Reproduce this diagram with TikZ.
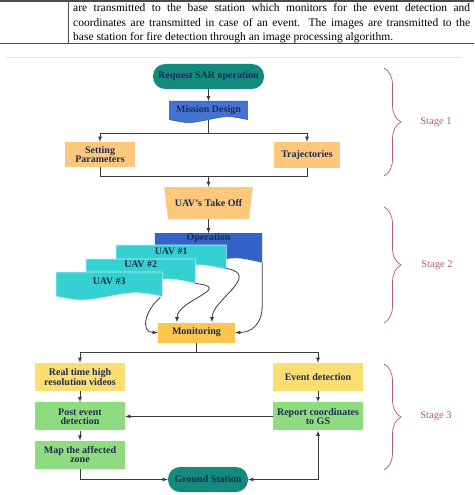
\documentclass[tikz,border=0pt]{standalone}
\usepackage{fontspec}
\setmainfont{Liberation Serif}
\usepackage{xcolor}
\usepackage{tikz}
\usetikzlibrary{positioning}
\usetikzlibrary{arrows}
\usetikzlibrary{calc}
\usetikzlibrary{backgrounds}
\usetikzlibrary{shapes.geometric}
\usetikzlibrary{decorations.pathreplacing}
\definecolor{sarteal}{HTML}{138A7C}
\definecolor{misblue}{HTML}{4473D4}
\definecolor{misedge}{HTML}{2D55A8}
\definecolor{opblue}{HTML}{3362C8}
\definecolor{softorange}{HTML}{FDC87C}
\definecolor{uavcyan}{HTML}{35D0D2}
\definecolor{amber}{HTML}{FBC54E}
\definecolor{softyellow}{HTML}{FCDD72}
\definecolor{softgreen}{HTML}{8EDC7F}
\definecolor{navytext}{HTML}{1F2B52}
\definecolor{linegray}{HTML}{3A3A3A}
\definecolor{stagered}{HTML}{B25A78}
% document shape with a wavy bottom, drawn behind node #1
\newcommand\docfill[4]{%
  \path[#2] (#1.north west) -- (#1.north east) -- ($(#1.south east)+(0,#4)$)
    .. controls ($(#1.south east)!0.5!(#1.south)+(0,#4-#3)$) .. ($(#1.south)+(0,#4)$)
    .. controls ($(#1.south west)!0.5!(#1.south)+(0,#4+#3)$) .. ($(#1.south west)+(0,#4)$) -- cycle;}
\tikzset {
  % flow chart boxes
  box/.style = {rectangle, minimum height=28pt, inner sep=1pt, align=center, text=navytext},
  term/.style = {rectangle, rounded corners=12pt, fill=sarteal, minimum height=25pt, inner sep=1pt, text=navytext},
  doc/.style = {rectangle, inner sep=0pt, text=navytext},
  takeoff/.style = {trapezium, shape border rotate=180, trapezium left angle=76, trapezium right angle=76,
    trapezium stretches=true, minimum width=89pt, minimum height=32pt, fill=softorange, text=navytext},
  % connectors
  line/.style = {draw=linegray, line width=0.8pt},
  arr/.style = {line, -latex},
  % stages on the right
  stagebrace/.style = {draw=stagered, line width=0.7pt, decorate, decoration={brace, amplitude=17pt}},
  stage/.style = {text=stagered, font=\fontsize{10.5}{12}\selectfont},
  % the table row at the top
  tabletext/.style = {anchor=base west, inner sep=0pt, font=\fontsize{11.5}{13}\selectfont},
  tablerule/.style = {draw=black!70, line width=1.5pt},
}
\begin{document}
\begin{tikzpicture}[x=1pt, y=-1pt, font=\fontsize{10}{9}\selectfont\bfseries]
  \useasboundingbox (0,0) rectangle (474,495);

  % table row
  \draw[tablerule] (0,1) -- (474,1);
  \draw[tablerule] (0,43.5) -- (474,43.5);
  \draw[tablerule, line width=1pt] (68.5,1) -- (68.5,43.5);
  \node[tabletext] (t1) at (73,12) {\makebox[397pt][s]{are transmitted to the base station which monitors for the event detection and}};
  \node[tabletext] (t2) at (73,26.5) {\makebox[397pt][s]{coordinates are transmitted in case of an event. The images are transmitted to the}};
  \node[tabletext] (t3) at (73,41) {base station for fire detection through an image processing algorithm.};
  \draw[black!10, line width=0.8pt] (6,57) -- (462,57);

  % stage 1
  \node[term, minimum width=111pt] (sar) at (208.5,76.5) {Request SAR operation};
  \node[doc, minimum width=78pt, minimum height=18pt] (mis) [below=12pt of sar] {Mission Design};
  \node[box, fill=softorange, minimum width=70pt, minimum height=25pt] (set) at (100,154.5) {Setting\\Parameters};
  \node[box, fill=softorange, minimum width=66pt, minimum height=26pt] (traj) at (307,155) {Trajectories};

  % stage 2
  \node[takeoff] (take) at (208.5,203) {UAV's Take Off};
  \node[doc, minimum width=107pt, minimum height=9pt] (op) [below=14pt of take] {Operation};
  \node[doc, anchor=north west, minimum width=110pt, minimum height=12pt] (u1) at (116,245) {UAV \#1};
  \node[doc, anchor=north west, minimum width=109pt, minimum height=10pt] (u2) at (86,259) {UAV \#2};
  \node[doc, anchor=north west, minimum width=106pt, minimum height=18pt] (u3) at (56,272) {UAV \#3};
  \node[box, fill=amber, minimum width=77pt, minimum height=20pt] (mon) at (196.5,332.5) {Monitoring};

  % stage 3
  \node[box, fill=softyellow, minimum width=90pt] (rt) at (80,377) {Real time high\\resolution videos};
  \node[box, fill=softyellow, minimum width=90pt] (ev) at (318,377) {Event detection};
  \node[box, fill=softgreen, minimum width=90pt] (post) [below=11pt of rt] {Post event\\detection};
  \node[box, fill=softgreen, minimum width=90pt] (map) [below=10pt of post] {Map the affected\\zone};
  \node[box, fill=softgreen, minimum width=90pt] (rep) [below=11pt of ev] {Report coordinates\\to GS};
  \node[term, minimum width=80pt] (gs) at (208,479.5) {Ground Station};

  \begin{scope}[on background layer]
    \docfill{mis}{fill=misblue, draw=misedge, line width=0.5pt}{4}{0}
    \docfill{op}{fill=opblue}{6}{20}
    \docfill{u1}{fill=uavcyan, draw=white!70!uavcyan, line width=0.6pt}{6}{12}
    \docfill{u2}{fill=uavcyan, draw=white!70!uavcyan, line width=0.6pt}{6}{14}
    \docfill{u3}{fill=uavcyan, draw=white!70!uavcyan, line width=0.6pt}{5}{6}
  \end{scope}

  % connectors
  \draw[arr] (sar) -- (mis);
  \draw[line] (mis.south) -- ++(0,14) coordinate (fork1);
  \draw[arr] (fork1) -| (set);
  \draw[arr] (fork1) -| (traj);
  \path (take.north) ++(0,-10) coordinate (join1);
  \draw[line] (set) |- (join1) -| (traj);
  \draw[arr] (join1) -- (take);
  \draw[arr] (take) -- (op);

  \draw[arr] ($(u3.south east)+(-2,7)$) .. controls (145,310) and (140,332.5) .. (mon.west);
  \draw[arr] ($(u2.south east)+(0,14)$) .. controls (235,288) and (177,300) .. ($(mon.north)+(-19.5,0)$);
  \draw[arr] ($(u1.south east)+(0,11)$) .. controls (262,275) and (212,300) .. ($(mon.north)+(15.5,0)$);
  \draw[arr] ($(op.south east)+(0,20)$) -- ++(0,43) .. controls +(0,20) and (250,332.5) .. (mon.east);

  \draw[line] (mon.south) -- ++(0,10) coordinate (fork2);
  \draw[arr] (fork2) -| (rt);
  \draw[arr] (fork2) -| (ev);
  \draw[arr] (rt) -- (post);
  \draw[arr] (post) -- (map);
  \draw[arr] (ev) -- (rep);
  \draw[arr] (rep) -- (post);
  \draw[arr] (map) |- (gs);
  \draw[arr, latex-latex] (gs) -| (rep);

  % stages
  \draw[stagebrace] (384,68) -- (384,176);
  \node[stage] (s1) at (436,122) {Stage 1};
  \draw[stagebrace] (384,207) -- (384,323);
  \node[stage] (s2) at (437,265) {Stage 2};
  \draw[stagebrace] (384,364) -- (384,470);
  \node[stage] (s3) at (436,416) {Stage 3};
\end{tikzpicture}
\end{document}
